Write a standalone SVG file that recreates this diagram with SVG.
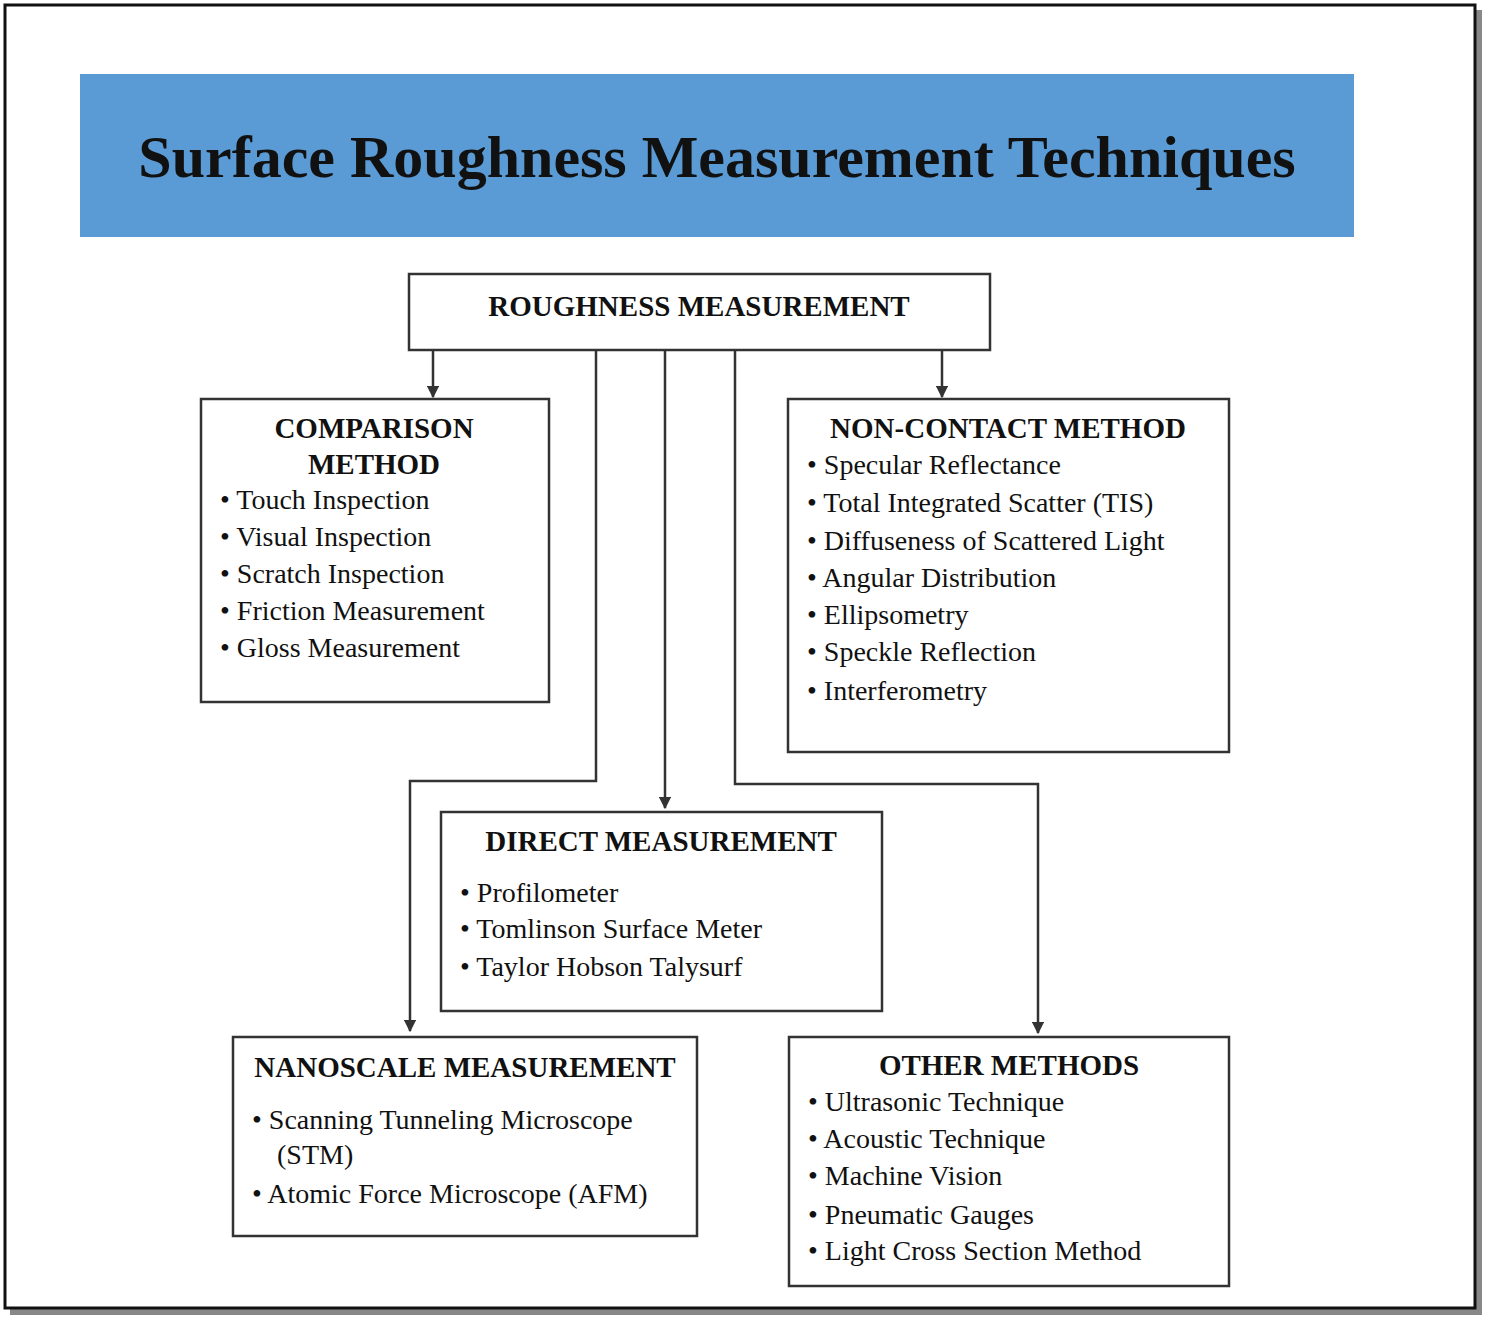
<svg xmlns="http://www.w3.org/2000/svg" width="1494" height="1327" viewBox="0 0 1494 1327">
<style>
text{font-family:"Liberation Serif","Times New Roman",serif;fill:#111}
.h{font-weight:bold;font-size:29px;text-anchor:middle}
.i{font-size:28px}
.box{fill:#fff;stroke:#333;stroke-width:2.5}
.c{fill:none;stroke:#333;stroke-width:2.5}
</style>
<defs><marker id="a" viewBox="0 0 10 10" refX="9" refY="5" markerWidth="5" markerHeight="5" orient="auto"><path d="M0,0L10,5L0,10z" fill="#333"/></marker></defs>
<rect x="0" y="0" width="1494" height="1327" fill="#fff"/>
<rect x="10" y="10" width="1472" height="1305" fill="#888"/>
<rect x="5" y="5" width="1470" height="1303" fill="#fff" stroke="#111" stroke-width="3"/>
<rect x="80" y="74" width="1274" height="163" fill="#5b9bd5"/>
<text x="717" y="177" text-anchor="middle" font-weight="bold" font-size="60">Surface Roughness Measurement Techniques</text>
<g id="connectors">
<path class="c" d="M433,350V397" marker-end="url(#a)"/>
<path class="c" d="M942,350V397" marker-end="url(#a)"/>
<path class="c" d="M596,350V781H410V1031" marker-end="url(#a)"/>
<path class="c" d="M665,350V808" marker-end="url(#a)"/>
<path class="c" d="M735,350V784H1038V1033" marker-end="url(#a)"/>
</g>
<g id="root"><rect class="box" x="409" y="274" width="581" height="76"/><text class="h" x="699" y="316">ROUGHNESS MEASUREMENT</text></g>
<g id="comparison"><rect class="box" x="201" y="399" width="348" height="303"/>
<text class="h" x="374" y="438">COMPARISON</text><text class="h" x="374" y="474">METHOD</text>
<g class="i"><text x="220" y="509">• Touch Inspection</text><text x="220" y="546">• Visual Inspection</text><text x="220" y="583">• Scratch Inspection</text><text x="220" y="620">• Friction Measurement</text><text x="220" y="657">• Gloss Measurement</text></g></g>
<g id="noncontact"><rect class="box" x="788" y="399" width="441" height="353"/>
<text class="h" x="1008" y="438">NON-CONTACT METHOD</text>
<g class="i"><text x="807" y="474">• Specular Reflectance</text><text x="807" y="512">• Total Integrated Scatter (TIS)</text><text x="807" y="550">• Diffuseness of Scattered Light</text><text x="807" y="587">• Angular Distribution</text><text x="807" y="624">• Ellipsometry</text><text x="807" y="661">• Speckle Reflection</text><text x="807" y="700">• Interferometry</text></g></g>
<g id="direct"><rect class="box" x="441" y="812" width="441" height="199"/>
<text class="h" x="661" y="851">DIRECT MEASUREMENT</text>
<g class="i"><text x="460" y="902">• Profilometer</text><text x="460" y="938">• Tomlinson Surface Meter</text><text x="460" y="976">• Taylor Hobson Talysurf</text></g></g>
<g id="nanoscale"><rect class="box" x="233" y="1037" width="464" height="199"/>
<text class="h" x="465" y="1077">NANOSCALE MEASUREMENT</text>
<g class="i"><text x="252" y="1129">• Scanning Tunneling Microscope</text><text x="277" y="1164">(STM)</text><text x="252" y="1203">• Atomic Force Microscope (AFM)</text></g></g>
<g id="other"><rect class="box" x="789" y="1037" width="440" height="249"/>
<text class="h" x="1009" y="1075">OTHER METHODS</text>
<g class="i"><text x="808" y="1111">• Ultrasonic Technique</text><text x="808" y="1148">• Acoustic Technique</text><text x="808" y="1185">• Machine Vision</text><text x="808" y="1224">• Pneumatic Gauges</text><text x="808" y="1260">• Light Cross Section Method</text></g></g>
</svg>
